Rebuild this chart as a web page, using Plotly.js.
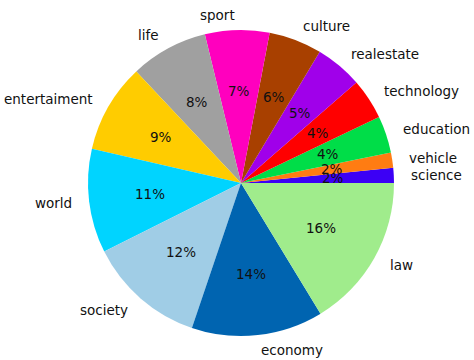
<!DOCTYPE html>
<html>
<head>
<meta charset="utf-8">
<script src="https://cdn.plot.ly/plotly-3.0.1.min.js"></script>
<style>html,body{margin:0;padding:0;background:#fff;}#chart{width:474px;height:360px;}</style>
</head>
<body>
<div id="chart"></div>
<script>
var categories = ["science","vehicle","education","technology","realestate","culture","sport","life","entertaiment","world","society","economy","law"];
var shares = [1.6, 1.6, 3.9, 4.3, 5.0, 5.6, 6.8, 8.2, 9.4, 11.0, 12.4, 13.9, 16.3];
var sliceColors = ["#3c00f5","#ff7c12","#00dd48","#ff0000","#a000ea","#a84000","#ff00be","#a0a0a0","#ffcc00","#00d4ff","#a0cde6","#0064b0","#a0ec8c"];

var total = shares.reduce(function(a,b){return a+b;},0);
var annotations = [];
var cum = 0;
var fnt = {family: "DejaVu Sans", size: 13.5, color: "#111"};
for (var i = 0; i < shares.length; i++) {
  var mid = (cum + shares[i]/2) / total * 2 * Math.PI;
  cum += shares[i];
  var c = Math.cos(mid), s = Math.sin(mid);
  annotations.push({
    xref: "paper", yref: "paper", showarrow: false,
    x: 0.5 + 0.5*1.1*c, y: 0.5 + 0.5*1.1*s,
    xanchor: c > 0 ? "left" : "right", yanchor: "middle",
    text: categories[i], font: fnt
  });
  annotations.push({
    xref: "paper", yref: "paper", showarrow: false,
    x: 0.5 + 0.5*0.6*c, y: 0.5 + 0.5*0.6*s,
    xanchor: "center", yanchor: "middle",
    text: Math.round(shares[i]/total*100) + "%", font: fnt
  });
}

// Plotly places the first counterclockwise slice ending at the rotation angle,
// so shift by the first slice's angle to start it at 3 o'clock.
var startRotation = 90 - 360 * shares[0] / total;

var data = [{
  type: "pie",
  labels: categories,
  values: shares,
  sort: false,
  direction: "counterclockwise",
  rotation: startRotation,
  textinfo: "none",
  hoverinfo: "label+percent",
  marker: {colors: sliceColors, line: {width: 0}},
  showlegend: false
}];

var layout = {
  width: 474, height: 360,
  margin: {l: 88, r: 80, t: 30, b: 24, pad: 0},
  paper_bgcolor: "#fff",
  showlegend: false,
  annotations: annotations
};

Plotly.newPlot("chart", data, layout, {staticPlot: true, displayModeBar: false});
</script>
</body>
</html>
